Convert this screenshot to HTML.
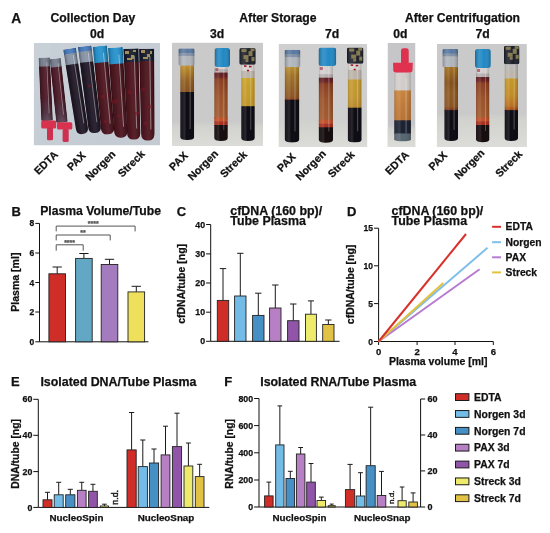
<!DOCTYPE html><html><head><meta charset="utf-8"><style>html,body{margin:0;padding:0;background:#fff;overflow:hidden}svg{display:block}text{font-family:"Liberation Sans",sans-serif}</style></head><body>
<svg width="550" height="533" viewBox="0 0 550 533">
<rect width="550" height="533" fill="#fff"/>
<defs>
<linearGradient id="cyl" x1="0" x2="1" y1="0" y2="0">
<stop offset="0" stop-color="#000" stop-opacity="0.18"/>
<stop offset="0.15" stop-color="#fff" stop-opacity="0.06"/>
<stop offset="0.3" stop-color="#fff" stop-opacity="0.12"/>
<stop offset="0.45" stop-color="#fff" stop-opacity="0.0"/>
<stop offset="0.85" stop-color="#000" stop-opacity="0.06"/>
<stop offset="1" stop-color="#000" stop-opacity="0.2"/>
</linearGradient>
<linearGradient id="cyl2" x1="0" x2="1" y1="0" y2="0">
<stop offset="0" stop-color="#000" stop-opacity="0.25"/>
<stop offset="0.3" stop-color="#fff" stop-opacity="0.12"/>
<stop offset="0.6" stop-color="#fff" stop-opacity="0"/>
<stop offset="1" stop-color="#000" stop-opacity="0.25"/>
</linearGradient>
<linearGradient id="gPax" x1="0" x2="0" y1="0" y2="1"><stop offset="0" stop-color="#c09030"/><stop offset="0.2" stop-color="#b08028"/><stop offset="0.55" stop-color="#946224"/><stop offset="1" stop-color="#84501e"/></linearGradient>
<linearGradient id="gPax7" x1="0" x2="0" y1="0" y2="1"><stop offset="0" stop-color="#a47224"/><stop offset="0.35" stop-color="#84501c"/><stop offset="0.6" stop-color="#8e5a24"/><stop offset="0.9" stop-color="#8a5424"/><stop offset="1" stop-color="#7a2e18"/></linearGradient>
<linearGradient id="gNor" x1="0" x2="0" y1="0" y2="1"><stop offset="0" stop-color="#5e1e26"/><stop offset="0.09" stop-color="#6a2424"/><stop offset="0.15" stop-color="#8a3e22"/><stop offset="0.5" stop-color="#9a522a"/><stop offset="1" stop-color="#a25c30"/></linearGradient>
<linearGradient id="gStr" x1="0" x2="0" y1="0" y2="1"><stop offset="0" stop-color="#cca42c"/><stop offset="0.5" stop-color="#c69c2a"/><stop offset="1" stop-color="#c09428"/></linearGradient>
<linearGradient id="gStr7" x1="0" x2="0" y1="0" y2="1"><stop offset="0" stop-color="#c49a30"/><stop offset="0.6" stop-color="#c29630"/><stop offset="1" stop-color="#b8882c"/></linearGradient>
<linearGradient id="gStr7b" x1="0" x2="0" y1="0" y2="1"><stop offset="0" stop-color="#c49828"/><stop offset="0.5" stop-color="#c28c28"/><stop offset="0.85" stop-color="#b87020"/><stop offset="1" stop-color="#a04018"/></linearGradient>
<linearGradient id="gEdta" x1="0" x2="0" y1="0" y2="1"><stop offset="0" stop-color="#c8843e"/><stop offset="0.4" stop-color="#c27c3a"/><stop offset="1" stop-color="#b87234"/></linearGradient>
<linearGradient id="bgv" x1="0" x2="1" y1="0" y2="0"><stop offset="0" stop-color="#c8c8c8"/><stop offset="0.5" stop-color="#c4c4c4"/><stop offset="1" stop-color="#c6c6c6"/></linearGradient>
<linearGradient id="floor" x1="0" x2="0" y1="0" y2="1"><stop offset="0" stop-color="#d4d4d0" stop-opacity="0"/><stop offset="0.2" stop-color="#d2d2ce"/><stop offset="1" stop-color="#dcdcd8"/></linearGradient>
<linearGradient id="gPax7a" x1="0" x2="0" y1="0" y2="1"><stop offset="0" stop-color="#b88e30"/><stop offset="0.25" stop-color="#a27428"/><stop offset="0.6" stop-color="#946226"/><stop offset="0.9" stop-color="#8e5424"/><stop offset="1" stop-color="#8a3a1c"/></linearGradient>
<linearGradient id="gEdtaLow" x1="0" x2="0" y1="0" y2="1"><stop offset="0" stop-color="#4e1c2a"/><stop offset="0.5" stop-color="#503040"/><stop offset="1" stop-color="#6a5a6a"/></linearGradient>
<linearGradient id="cyl1" x1="0" x2="1" y1="0" y2="0">
<stop offset="0" stop-color="#000" stop-opacity="0.35"/>
<stop offset="0.2" stop-color="#000" stop-opacity="0.05"/>
<stop offset="0.5" stop-color="#fff" stop-opacity="0.05"/>
<stop offset="0.85" stop-color="#000" stop-opacity="0.1"/>
<stop offset="1" stop-color="#000" stop-opacity="0.4"/>
</linearGradient>
<linearGradient id="bg2" x1="0" x2="0" y1="0" y2="1">
<stop offset="0" stop-color="#dcdcde"/><stop offset="0.72" stop-color="#e0e0e1"/><stop offset="0.8" stop-color="#ebeae8"/><stop offset="1" stop-color="#f0efed"/>
</linearGradient>
<linearGradient id="bg1" x1="0" x2="1" y1="0" y2="1"><stop offset="0" stop-color="#cad0d8"/><stop offset="1" stop-color="#c4cad2"/></linearGradient>
<filter id="blur1" x="-5%" y="-5%" width="110%" height="110%"><feGaussianBlur stdDeviation="0.6"/></filter>
</defs>
<text x="11.3" y="22.9" font-size="13.8" text-anchor="start" fill="#111" font-weight="bold" stroke="#111" stroke-width="0.25" >A</text>
<text x="92.9" y="22.3" font-size="12.2" text-anchor="middle" fill="#111" font-weight="bold" stroke="#111" stroke-width="0.25" >Collection Day</text>
<text x="97.1" y="37.6" font-size="12.2" text-anchor="middle" fill="#111" font-weight="bold" stroke="#111" stroke-width="0.25" >0d</text>
<text x="277.9" y="21.9" font-size="12.2" text-anchor="middle" fill="#111" font-weight="bold" stroke="#111" stroke-width="0.25" >After Storage</text>
<text x="217.2" y="37.6" font-size="12.2" text-anchor="middle" fill="#111" font-weight="bold" stroke="#111" stroke-width="0.25" >3d</text>
<text x="332" y="37.6" font-size="12.2" text-anchor="middle" fill="#111" font-weight="bold" stroke="#111" stroke-width="0.25" >7d</text>
<text x="462.5" y="21.9" font-size="12.2" text-anchor="middle" fill="#111" font-weight="bold" stroke="#111" stroke-width="0.25" >After Centrifugation</text>
<text x="400.4" y="37.6" font-size="12.2" text-anchor="middle" fill="#111" font-weight="bold" stroke="#111" stroke-width="0.25" >0d</text>
<text x="482.5" y="37.6" font-size="12.2" text-anchor="middle" fill="#111" font-weight="bold" stroke="#111" stroke-width="0.25" >7d</text>
<clipPath id="cp1"><rect x="33.7" y="43" width="126.39999999999999" height="102.5"/></clipPath>
<g clip-path="url(#cp1)" filter="url(#blur1)">
<rect x="33.7" y="43" width="126.39999999999999" height="102.5" fill="url(#bg1)" stroke="none" stroke-width="0" />
<rect x="39" y="43" width="10" height="16" fill="#c8d0d8" stroke="none" stroke-width="0" />
<rect x="50" y="43" width="10" height="16" fill="#c6ced6" stroke="none" stroke-width="0" />
<g transform="translate(44.20,57.50) rotate(-2.61)">
<clipPath id="tb1"><path d="M-5.6,0 L5.6,0 L5.8,62.56618597965431 Q5.8,63.56618597965431 0,63.56618597965431 Q-5.8,63.56618597965431 -5.8,62.56618597965431 Z"/></clipPath>
<g clip-path="url(#tb1)">
<rect x="-6.6" y="0" width="13.2" height="9.70" fill="#7a8090"/>
<rect x="-6.6" y="9" width="13.2" height="31.70" fill="#4e1c2a"/>
<rect x="-6.6" y="40" width="13.2" height="30.70" fill="url(#gEdtaLow)"/>
<rect x="-5.6" y="0" width="11.2" height="63.56618597965431" fill="url(#cyl1)"/>
<rect x="1.96" y="5.09" width="0.80" height="50.85" fill="#fff" opacity="0.42"/>
</g>
</g>
<g transform="translate(55.20,58.50) rotate(-6.06)">
<clipPath id="tb2"><path d="M-5.5,0 L5.5,0 L5.75,63.36023617110179 Q5.75,64.36023617110179 0,64.36023617110179 Q-5.75,64.36023617110179 -5.75,63.36023617110179 Z"/></clipPath>
<g clip-path="url(#tb2)">
<rect x="-6.5" y="0" width="13.0" height="9.20" fill="#7a8090"/>
<rect x="-6.5" y="8.5" width="13.0" height="32.20" fill="#4e1c2a"/>
<rect x="-6.5" y="40" width="13.0" height="30.70" fill="url(#gEdtaLow)"/>
<rect x="-5.5" y="0" width="11.0" height="64.36023617110179" fill="url(#cyl1)"/>
<rect x="1.92" y="5.15" width="0.80" height="51.49" fill="#fff" opacity="0.42"/>
</g>
</g>
<g transform="translate(69.50,48.60) rotate(-8.85)">
<clipPath id="tb3"><path d="M-6.4,0 L6.4,0 L6.0,80.66945099906629 Q6.0,86.42945099906629 0,86.42945099906629 Q-6.0,86.42945099906629 -6.0,80.66945099906629 Z"/></clipPath>
<g clip-path="url(#tb3)">
<rect x="-7.4" y="0" width="14.8" height="5.70" fill="#4a7cbc"/>
<rect x="-7.4" y="5" width="14.8" height="11.70" fill="#8a96a8"/>
<rect x="-7.4" y="16" width="14.8" height="79.70" fill="#221a28"/>
<rect x="-6.4" y="0" width="12.8" height="86.42945099906629" fill="url(#cyl1)"/>
<rect x="2.24" y="6.91" width="0.90" height="69.14" fill="#fff" opacity="0.42"/>
</g>
</g>
<g transform="translate(84.60,46.20) rotate(-7.03)">
<clipPath id="tb4"><path d="M-6.8,0 L6.8,0 L6.3,81.3370180145653 Q6.3,87.4570180145653 0,87.4570180145653 Q-6.3,87.4570180145653 -6.3,81.3370180145653 Z"/></clipPath>
<g clip-path="url(#tb4)">
<rect x="-7.8" y="0" width="15.6" height="5.70" fill="#4a7cbc"/>
<rect x="-7.8" y="5" width="15.6" height="11.70" fill="#8a96a8"/>
<rect x="-7.8" y="16" width="15.6" height="79.70" fill="#221a28"/>
<rect x="-6.8" y="0" width="13.6" height="87.4570180145653" fill="url(#cyl1)"/>
<rect x="2.38" y="7.00" width="0.95" height="69.97" fill="#fff" opacity="0.42"/>
</g>
</g>
<g transform="translate(99.80,46.00) rotate(-5.42)">
<clipPath id="tb5"><path d="M-7.1,0 L7.1,0 L6.6,82.50775025274824 Q6.6,88.89775025274824 0,88.89775025274824 Q-6.6,88.89775025274824 -6.6,82.50775025274824 Z"/></clipPath>
<g clip-path="url(#tb5)">
<rect x="-8.1" y="0" width="16.2" height="17.20" fill="#2894ce"/>
<rect x="-8.1" y="16.5" width="16.2" height="79.20" fill="#4c1620"/>
<rect x="-7.1" y="0" width="14.2" height="88.89775025274824" fill="url(#cyl1)"/>
<rect x="2.48" y="7.11" width="0.99" height="71.12" fill="#fff" opacity="0.42"/>
</g>
</g>
<g transform="translate(115.30,47.40) rotate(-3.74)">
<clipPath id="tb6"><path d="M-7.3,0 L7.3,0 L6.6,83.92254112908972 Q6.6,90.49254112908973 0,90.49254112908973 Q-6.6,90.49254112908973 -6.6,83.92254112908972 Z"/></clipPath>
<g clip-path="url(#tb6)">
<rect x="-8.3" y="0" width="16.6" height="17.20" fill="#2894ce"/>
<rect x="-8.3" y="16.5" width="16.6" height="79.20" fill="#4c1620"/>
<rect x="-7.3" y="0" width="14.6" height="90.49254112908973" fill="url(#cyl1)"/>
<rect x="2.55" y="7.24" width="1.02" height="72.39" fill="#fff" opacity="0.42"/>
</g>
</g>
<g transform="translate(130.90,48.60) rotate(-1.89)">
<clipPath id="tb7"><path d="M-7.5,0 L7.5,0 L6.6,84.2994371207203 Q6.6,91.0494371207203 0,91.0494371207203 Q-6.6,91.0494371207203 -6.6,84.2994371207203 Z"/></clipPath>
<g clip-path="url(#tb7)">
<rect x="-8.5" y="0" width="17.0" height="14.20" fill="#1a2030"/>
<rect x="-8.5" y="13.5" width="17.0" height="82.20" fill="#4e1620"/>
<rect x="-7.5" y="0" width="15.0" height="91.0494371207203" fill="url(#cyl1)"/>
<rect x="2.62" y="7.28" width="1.05" height="72.84" fill="#fff" opacity="0.42"/>
</g>
</g>
<g transform="translate(146.60,48.60) rotate(-0.81)">
<clipPath id="tb8"><path d="M-7.5,0 L7.5,0 L6.6,85.25918432417494 Q6.6,92.00918432417494 0,92.00918432417494 Q-6.6,92.00918432417494 -6.6,85.25918432417494 Z"/></clipPath>
<g clip-path="url(#tb8)">
<rect x="-8.5" y="0" width="17.0" height="13.20" fill="#1a2030"/>
<rect x="-8.5" y="12.5" width="17.0" height="83.20" fill="#4e1620"/>
<rect x="-7.5" y="0" width="15.0" height="92.00918432417494" fill="url(#cyl1)"/>
<rect x="2.62" y="7.36" width="1.05" height="73.61" fill="#fff" opacity="0.42"/>
</g>
</g>
<rect x="125" y="51" width="4" height="3" fill="#b09a62" stroke="none" stroke-width="0" opacity="0.9"/>
<rect x="131" y="55" width="3" height="4" fill="#b09a62" stroke="none" stroke-width="0" opacity="0.9"/>
<rect x="127" y="58" width="5" height="2" fill="#b09a62" stroke="none" stroke-width="0" opacity="0.9"/>
<rect x="133" y="50" width="3" height="2" fill="#b09a62" stroke="none" stroke-width="0" opacity="0.9"/>
<rect x="141" y="50" width="4" height="3" fill="#b09a62" stroke="none" stroke-width="0" opacity="0.9"/>
<rect x="147" y="54" width="3" height="3" fill="#b09a62" stroke="none" stroke-width="0" opacity="0.9"/>
<rect x="143" y="57" width="5" height="2" fill="#b09a62" stroke="none" stroke-width="0" opacity="0.9"/>
<rect x="150" y="51" width="2" height="3" fill="#b09a62" stroke="none" stroke-width="0" opacity="0.9"/>
<ellipse cx="103.0" cy="96.5" rx="2.5" ry="2.0" fill="#7a1a26" opacity="0.55"/>
<ellipse cx="114.5" cy="101.5" rx="3.0" ry="2.0" fill="#7a1a26" opacity="0.55"/>
<ellipse cx="120.0" cy="116.0" rx="2.5" ry="1.5" fill="#7a1a26" opacity="0.55"/>
<ellipse cx="129.5" cy="92.0" rx="2.0" ry="2.5" fill="#7a1a26" opacity="0.55"/>
<ellipse cx="137.0" cy="113.5" rx="2.5" ry="2.0" fill="#7a1a26" opacity="0.55"/>
<ellipse cx="143.5" cy="89.5" rx="2.0" ry="2.0" fill="#7a1a26" opacity="0.55"/>
<ellipse cx="150.0" cy="106.5" rx="2.5" ry="2.0" fill="#7a1a26" opacity="0.55"/>
<ellipse cx="145.5" cy="123.5" rx="2.0" ry="2.0" fill="#7a1a26" opacity="0.55"/>
<ellipse cx="105.5" cy="121.5" rx="2.0" ry="2.0" fill="#7a1a26" opacity="0.55"/>
<ellipse cx="89.5" cy="86.0" rx="2.0" ry="1.5" fill="#7a1a26" opacity="0.55"/>
<rect x="41.2" y="120.4" width="15" height="8.2" rx="1.5" fill="#d83050"/>
<rect x="47" y="127.5" width="6" height="12.7" rx="1.5" fill="#cc3050"/>
<rect x="57" y="122.2" width="15.3" height="7.4" rx="1.5" fill="#d83050"/>
<rect x="62.6" y="129" width="6.1" height="13" rx="1.5" fill="#cc3050"/>
</g>
<clipPath id="cp2"><rect x="172" y="42.6" width="91" height="103.4"/></clipPath>
<g clip-path="url(#cp2)" filter="url(#blur1)">
<rect x="172" y="42.6" width="91" height="103.4" fill="#cacaca" stroke="none" stroke-width="0" />
<rect x="172" y="122" width="91" height="24" fill="url(#floor)" stroke="none" stroke-width="0" />
<g transform="translate(187.20,48.40) rotate(-0.00)">
<clipPath id="tb9"><path d="M-7.0,0 L7.0,0 L7.0,88.6 Q7.0,91.6 0,91.6 Q-7.0,91.6 -7.0,88.6 Z"/></clipPath>
<g clip-path="url(#tb9)">
<rect x="-8.0" y="0" width="16" height="17.80" fill="#a6aeb8"/>
<rect x="-8.0" y="17.1" width="16" height="27.20" fill="url(#gPax)"/>
<rect x="-8.0" y="43.6" width="16" height="48.70" fill="#0e0c14"/>
<rect x="-7.0" y="0" width="14" height="91.6" fill="url(#cyl)"/>
<rect x="2.45" y="7.33" width="0.98" height="73.28" fill="#fff" opacity="0.28"/>
</g>
</g>
<clipPath id="cap1009"><rect x="178.4" y="48.4" width="16.2" height="17.1" rx="1.5"/></clipPath>
<g clip-path="url(#cap1009)">
<rect x="178.4" y="48.4" width="16.2" height="4.8" fill="#5878a0" stroke="none" stroke-width="0" />
<rect x="178.4" y="53.199999999999996" width="16.2" height="2.7" fill="#8090a8" stroke="none" stroke-width="0" />
<rect x="178.4" y="55.9" width="16.2" height="9.600000000000001" fill="#b0b5bc" stroke="none" stroke-width="0" />
<rect x="178.4" y="48.4" width="16.2" height="17.1" fill="url(#cyl2)" stroke="none" stroke-width="0" />
</g>
<g transform="translate(221.00,48.00) rotate(-0.00)">
<clipPath id="tb11"><path d="M-6.65,0 L6.65,0 L6.65,90.0 Q6.65,93.0 0,93.0 Q-6.65,93.0 -6.65,90.0 Z"/></clipPath>
<g clip-path="url(#tb11)">
<rect x="-7.65" y="0" width="15.3" height="19.70" fill="#d0cccc"/>
<rect x="-7.65" y="19" width="15.3" height="2.80" fill="#d4d0d0"/>
<rect x="-7.65" y="21.099999999999994" width="15.3" height="4.20" fill="#b8b0b0"/>
<rect x="-7.65" y="24.599999999999994" width="15.3" height="46.60" fill="url(#gNor)"/>
<rect x="-7.65" y="69.5" width="15.3" height="4.70" fill="#c0522c"/>
<rect x="-7.65" y="73.5" width="15.3" height="4.20" fill="#a83020"/>
<rect x="-7.65" y="77.0" width="15.3" height="16.70" fill="#140a0e"/>
<rect x="-6.65" y="0" width="13.3" height="93.0" fill="url(#cyl)"/>
<rect x="2.33" y="7.44" width="0.93" height="74.40" fill="#fff" opacity="0.28"/>
</g>
</g>
<rect x="215.35" y="68" width="3" height="3" fill="#a02838" stroke="none" stroke-width="0" opacity="0.6"/>
<clipPath id="cap1011"><rect x="214.60000000000002" y="48" width="15.4" height="19" rx="3"/></clipPath>
<g clip-path="url(#cap1011)">
<rect x="214.60000000000002" y="48" width="15.4" height="19" fill="#2088c4" stroke="none" stroke-width="0" />
<rect x="214.60000000000002" y="48" width="15.4" height="19" fill="url(#cyl2)" stroke="none" stroke-width="0" />
</g>
<g transform="translate(248.00,48.10) rotate(-0.00)">
<clipPath id="tb13"><path d="M-6.65,0 L6.65,0 L6.65,89.9 Q6.65,92.9 0,92.9 Q-6.65,92.9 -6.65,89.9 Z"/></clipPath>
<g clip-path="url(#tb13)">
<rect x="-7.65" y="0" width="15.3" height="23.40" fill="#d6d2d0"/>
<rect x="-7.65" y="22.699999999999996" width="15.3" height="7.90" fill="#bdb5ab"/>
<rect x="-7.65" y="29.9" width="15.3" height="28.90" fill="url(#gStr)"/>
<rect x="-7.65" y="58.1" width="15.3" height="35.50" fill="#0e0c14"/>
<rect x="-6.65" y="0" width="13.3" height="92.9" fill="url(#cyl)"/>
<rect x="2.33" y="7.43" width="0.93" height="74.32" fill="#fff" opacity="0.28"/>
</g>
</g>
<clipPath id="cap1013"><rect x="239.3" y="48.1" width="16.4" height="16.699999999999996" rx="2"/></clipPath>
<g clip-path="url(#cap1013)">
<rect x="239.3" y="48.1" width="16.4" height="16.699999999999996" fill="#1a1e28" stroke="none" stroke-width="0" />
<rect x="239.3" y="48.1" width="16.4" height="16.699999999999996" fill="url(#cyl2)" stroke="none" stroke-width="0" />
</g>
<rect x="241.5" y="49.1" width="5" height="3" fill="#968a5a" stroke="none" stroke-width="0" opacity="0.85"/>
<rect x="248.5" y="51.1" width="4" height="5" fill="#968a5a" stroke="none" stroke-width="0" opacity="0.85"/>
<rect x="243.5" y="55.1" width="5" height="4" fill="#968a5a" stroke="none" stroke-width="0" opacity="0.85"/>
<rect x="250.5" y="48.6" width="4" height="2.5" fill="#968a5a" stroke="none" stroke-width="0" opacity="0.85"/>
<rect x="251.5" y="57.1" width="3" height="4" fill="#968a5a" stroke="none" stroke-width="0" opacity="0.85"/>
<rect x="245.5" y="59.1" width="3" height="3" fill="#968a5a" stroke="none" stroke-width="0" opacity="0.85"/>
<rect x="244" y="65.3" width="2.5" height="1.6" fill="#a01828" stroke="none" stroke-width="0" />
<rect x="249" y="65.8" width="2.5" height="1.6" fill="#a01828" stroke="none" stroke-width="0" />
<rect x="247" y="69.8" width="2" height="1.5" fill="#a01828" stroke="none" stroke-width="0" />
</g>
<clipPath id="cp3"><rect x="278.6" y="44" width="88.69999999999999" height="103"/></clipPath>
<g clip-path="url(#cp3)" filter="url(#blur1)">
<rect x="278.6" y="44" width="88.69999999999999" height="103" fill="#cfcfcf" stroke="none" stroke-width="0" />
<rect x="278.6" y="120" width="88.69999999999999" height="27" fill="url(#floor)" stroke="none" stroke-width="0" />
<g transform="translate(292.00,49.80) rotate(-0.00)">
<clipPath id="tb15"><path d="M-7.15,0 L7.15,0 L7.15,89.7 Q7.15,92.7 0,92.7 Q-7.15,92.7 -7.15,89.7 Z"/></clipPath>
<g clip-path="url(#tb15)">
<rect x="-8.15" y="0" width="16.3" height="17.90" fill="#a6aeb8"/>
<rect x="-8.15" y="17.200000000000003" width="16.3" height="33.40" fill="url(#gPax7a)"/>
<rect x="-8.15" y="49.900000000000006" width="16.3" height="43.50" fill="#0e0c14"/>
<rect x="-7.15" y="0" width="14.3" height="92.7" fill="url(#cyl)"/>
<rect x="2.50" y="7.42" width="1.00" height="74.16" fill="#fff" opacity="0.28"/>
</g>
</g>
<clipPath id="cap1015"><rect x="284.6" y="49.8" width="15.8" height="17.200000000000003" rx="1.5"/></clipPath>
<g clip-path="url(#cap1015)">
<rect x="284.6" y="49.8" width="15.8" height="4.8" fill="#5878a0" stroke="none" stroke-width="0" />
<rect x="284.6" y="54.599999999999994" width="15.8" height="2.7" fill="#8090a8" stroke="none" stroke-width="0" />
<rect x="284.6" y="57.3" width="15.8" height="9.700000000000003" fill="#b0b5bc" stroke="none" stroke-width="0" />
<rect x="284.6" y="49.8" width="15.8" height="17.200000000000003" fill="url(#cyl2)" stroke="none" stroke-width="0" />
</g>
<g transform="translate(325.90,47.60) rotate(-0.00)">
<clipPath id="tb17"><path d="M-7.05,0 L7.05,0 L7.05,92.1 Q7.05,95.1 0,95.1 Q-7.05,95.1 -7.05,92.1 Z"/></clipPath>
<g clip-path="url(#tb17)">
<rect x="-8.05" y="0" width="16.1" height="19.10" fill="#d0cccc"/>
<rect x="-8.05" y="18.4" width="16.1" height="8.90" fill="#d4d0d0"/>
<rect x="-8.05" y="26.6" width="16.1" height="4.20" fill="#b8b0b0"/>
<rect x="-8.05" y="30.1" width="16.1" height="43.80" fill="url(#gNor)"/>
<rect x="-8.05" y="72.19999999999999" width="16.1" height="4.70" fill="#c0522c"/>
<rect x="-8.05" y="76.19999999999999" width="16.1" height="4.20" fill="#a83020"/>
<rect x="-8.05" y="79.69999999999999" width="16.1" height="16.10" fill="#140a0e"/>
<rect x="-7.05" y="0" width="14.1" height="95.1" fill="url(#cyl)"/>
<rect x="2.47" y="7.61" width="0.99" height="76.08" fill="#fff" opacity="0.28"/>
</g>
</g>
<rect x="319.84999999999997" y="67" width="3" height="3" fill="#a02838" stroke="none" stroke-width="0" opacity="0.6"/>
<clipPath id="cap1017"><rect x="318.54999999999995" y="47.6" width="17.7" height="18.4" rx="3"/></clipPath>
<g clip-path="url(#cap1017)">
<rect x="318.54999999999995" y="47.6" width="17.7" height="18.4" fill="#2088c4" stroke="none" stroke-width="0" />
<rect x="318.54999999999995" y="47.6" width="17.7" height="18.4" fill="url(#cyl2)" stroke="none" stroke-width="0" />
</g>
<g transform="translate(354.70,47.60) rotate(-0.00)">
<clipPath id="tb19"><path d="M-7.0,0 L7.0,0 L7.0,91.9 Q7.0,94.9 0,94.9 Q-7.0,94.9 -7.0,91.9 Z"/></clipPath>
<g clip-path="url(#tb19)">
<rect x="-8.0" y="0" width="16" height="22.90" fill="#d6d2d0"/>
<rect x="-8.0" y="22.199999999999996" width="16" height="10.40" fill="#bdb5ab"/>
<rect x="-8.0" y="31.9" width="16" height="28.90" fill="url(#gStr7)"/>
<rect x="-8.0" y="60.1" width="16" height="35.50" fill="#0e0c14"/>
<rect x="-7.0" y="0" width="14" height="94.9" fill="url(#cyl)"/>
<rect x="2.45" y="7.59" width="0.98" height="75.92" fill="#fff" opacity="0.28"/>
</g>
</g>
<clipPath id="cap1019"><rect x="346.95" y="47.6" width="16.5" height="16.199999999999996" rx="2"/></clipPath>
<g clip-path="url(#cap1019)">
<rect x="346.95" y="47.6" width="16.5" height="16.199999999999996" fill="#1a1e28" stroke="none" stroke-width="0" />
<rect x="346.95" y="47.6" width="16.5" height="16.199999999999996" fill="url(#cyl2)" stroke="none" stroke-width="0" />
</g>
<rect x="349.2" y="48.6" width="5" height="3" fill="#968a5a" stroke="none" stroke-width="0" opacity="0.85"/>
<rect x="356.2" y="50.6" width="4" height="5" fill="#968a5a" stroke="none" stroke-width="0" opacity="0.85"/>
<rect x="351.2" y="54.6" width="5" height="4" fill="#968a5a" stroke="none" stroke-width="0" opacity="0.85"/>
<rect x="358.2" y="48.1" width="4" height="2.5" fill="#968a5a" stroke="none" stroke-width="0" opacity="0.85"/>
<rect x="359.2" y="56.6" width="3" height="4" fill="#968a5a" stroke="none" stroke-width="0" opacity="0.85"/>
<rect x="353.2" y="58.6" width="3" height="3" fill="#968a5a" stroke="none" stroke-width="0" opacity="0.85"/>
<rect x="350.7" y="64.3" width="2.5" height="1.6" fill="#a01828" stroke="none" stroke-width="0" />
<rect x="355.7" y="64.8" width="2.5" height="1.6" fill="#a01828" stroke="none" stroke-width="0" />
<rect x="353.7" y="68.8" width="2" height="1.5" fill="#a01828" stroke="none" stroke-width="0" />
</g>
<clipPath id="cp4"><rect x="387.5" y="43" width="28.0" height="104"/></clipPath>
<g clip-path="url(#cp4)" filter="url(#blur1)">
<rect x="387.5" y="43" width="28.0" height="104" fill="#c6c6c8" stroke="none" stroke-width="0" />
<rect x="387.5" y="125" width="28.0" height="22" fill="url(#floor)" stroke="none" stroke-width="0" />
<g transform="translate(402.60,72.80) rotate(-0.00)">
<clipPath id="tb21"><path d="M-8.3,0 L8.3,0 L8.3,66.50000000000001 Q8.3,68.50000000000001 0,68.50000000000001 Q-8.3,68.50000000000001 -8.3,66.50000000000001 Z"/></clipPath>
<g clip-path="url(#tb21)">
<rect x="-9.3" y="0" width="18.6" height="18.30" fill="#d2cdca"/>
<rect x="-9.3" y="17.6" width="18.6" height="30.60" fill="url(#gEdta)"/>
<rect x="-9.3" y="47.5" width="18.6" height="13.80" fill="#1c2232"/>
<rect x="-9.3" y="60.6" width="18.6" height="10.10" fill="#586670"/>
<rect x="-8.3" y="0" width="16.6" height="68.50000000000001" fill="url(#cyl)"/>
<rect x="2.91" y="5.48" width="1.16" height="54.80" fill="#fff" opacity="0.28"/>
</g>
</g>
<path d="M401,65 L401,50.5 Q401,48.2 403.5,48.2 L406.2,48.2 Q408.7,48.2 408.7,50.5 L408.7,65 Z" fill="#dc3050"/>
<path d="M393.1,62.8 L412.8,62.8 L412.5,70.5 Q412.3,72.6 410.2,72.6 L395.6,72.6 Q393.5,72.6 393.3,70.5 Z" fill="#e03050"/>
</g>
<clipPath id="cp5"><rect x="436.8" y="44" width="90.09999999999997" height="103"/></clipPath>
<g clip-path="url(#cp5)" filter="url(#blur1)">
<rect x="436.8" y="44" width="90.09999999999997" height="103" fill="#cacaca" stroke="none" stroke-width="0" />
<rect x="436.8" y="114" width="90.09999999999997" height="33" fill="url(#floor)" stroke="none" stroke-width="0" />
<g transform="translate(451.20,49.00) rotate(-0.00)">
<clipPath id="tb22"><path d="M-6.85,0 L6.85,0 L6.85,89.0 Q6.85,92.0 0,92.0 Q-6.85,92.0 -6.85,89.0 Z"/></clipPath>
<g clip-path="url(#tb22)">
<rect x="-7.85" y="0" width="15.7" height="18.70" fill="#a6aeb8"/>
<rect x="-7.85" y="18" width="15.7" height="43.80" fill="url(#gPax7)"/>
<rect x="-7.85" y="61.099999999999994" width="15.7" height="31.60" fill="#0e0c14"/>
<rect x="-6.85" y="0" width="13.7" height="92.0" fill="url(#cyl)"/>
<rect x="2.40" y="7.36" width="0.96" height="73.60" fill="#fff" opacity="0.28"/>
</g>
</g>
<clipPath id="cap1022"><rect x="442.4" y="49" width="15.6" height="18" rx="1.5"/></clipPath>
<g clip-path="url(#cap1022)">
<rect x="442.4" y="49" width="15.6" height="4.8" fill="#5878a0" stroke="none" stroke-width="0" />
<rect x="442.4" y="53.8" width="15.6" height="2.7" fill="#8090a8" stroke="none" stroke-width="0" />
<rect x="442.4" y="56.5" width="15.6" height="10.5" fill="#b0b5bc" stroke="none" stroke-width="0" />
<rect x="442.4" y="49" width="15.6" height="18" fill="url(#cyl2)" stroke="none" stroke-width="0" />
</g>
<g transform="translate(482.70,49.00) rotate(-0.00)">
<clipPath id="tb24"><path d="M-6.65,0 L6.65,0 L6.65,90.19999999999999 Q6.65,93.19999999999999 0,93.19999999999999 Q-6.65,93.19999999999999 -6.65,90.19999999999999 Z"/></clipPath>
<g clip-path="url(#tb24)">
<rect x="-7.65" y="0" width="15.3" height="19.70" fill="#d0cccc"/>
<rect x="-7.65" y="19" width="15.3" height="6.20" fill="#d4d0d0"/>
<rect x="-7.65" y="24.5" width="15.3" height="4.20" fill="#b8b0b0"/>
<rect x="-7.65" y="28" width="15.3" height="42.20" fill="url(#gNor)"/>
<rect x="-7.65" y="68.5" width="15.3" height="4.70" fill="#c0522c"/>
<rect x="-7.65" y="72.5" width="15.3" height="4.20" fill="#a83020"/>
<rect x="-7.65" y="76.0" width="15.3" height="17.90" fill="#140a0e"/>
<rect x="-6.65" y="0" width="13.3" height="93.19999999999999" fill="url(#cyl)"/>
<rect x="2.33" y="7.46" width="0.93" height="74.56" fill="#fff" opacity="0.28"/>
</g>
</g>
<rect x="477.05" y="69" width="3" height="3" fill="#a02838" stroke="none" stroke-width="0" opacity="0.6"/>
<clipPath id="cap1024"><rect x="475.0" y="49" width="15.8" height="19" rx="3"/></clipPath>
<g clip-path="url(#cap1024)">
<rect x="475.0" y="49" width="15.8" height="19" fill="#2088c4" stroke="none" stroke-width="0" />
<rect x="475.0" y="49" width="15.8" height="19" fill="url(#cyl2)" stroke="none" stroke-width="0" />
</g>
<g transform="translate(511.30,45.80) rotate(-0.00)">
<clipPath id="tb26"><path d="M-6.7,0 L6.7,0 L6.7,92.2 Q6.7,95.2 0,95.2 Q-6.7,95.2 -6.7,92.2 Z"/></clipPath>
<g clip-path="url(#tb26)">
<rect x="-7.7" y="0" width="15.4" height="25.20" fill="#bab8b6"/>
<rect x="-7.7" y="24.5" width="15.4" height="8.90" fill="#bdb5ab"/>
<rect x="-7.7" y="32.7" width="15.4" height="32.30" fill="url(#gStr7b)"/>
<rect x="-7.7" y="64.3" width="15.4" height="31.60" fill="#0e0c14"/>
<rect x="-6.7" y="0" width="13.4" height="95.2" fill="url(#cyl)"/>
<rect x="2.34" y="7.62" width="0.94" height="76.16" fill="#fff" opacity="0.28"/>
</g>
</g>
<clipPath id="cap1026"><rect x="503.95" y="45.8" width="15.5" height="18.5" rx="2"/></clipPath>
<g clip-path="url(#cap1026)">
<rect x="503.95" y="45.8" width="15.5" height="18.5" fill="#1a1e28" stroke="none" stroke-width="0" />
<rect x="503.95" y="45.8" width="15.5" height="18.5" fill="url(#cyl2)" stroke="none" stroke-width="0" />
</g>
<rect x="505.7" y="46.8" width="5" height="3" fill="#968a5a" stroke="none" stroke-width="0" opacity="0.85"/>
<rect x="512.7" y="48.8" width="4" height="5" fill="#968a5a" stroke="none" stroke-width="0" opacity="0.85"/>
<rect x="507.7" y="52.8" width="5" height="4" fill="#968a5a" stroke="none" stroke-width="0" opacity="0.85"/>
<rect x="514.7" y="46.3" width="4" height="2.5" fill="#968a5a" stroke="none" stroke-width="0" opacity="0.85"/>
<rect x="515.7" y="54.8" width="3" height="4" fill="#968a5a" stroke="none" stroke-width="0" opacity="0.85"/>
<rect x="509.7" y="56.8" width="3" height="3" fill="#968a5a" stroke="none" stroke-width="0" opacity="0.85"/>
</g>
<text x="58.6" y="155.3" font-size="10.7" text-anchor="end" fill="#111" font-weight="bold" stroke="#111" stroke-width="0.25" transform="rotate(-45 58.6 155.3)">EDTA</text>
<text x="86.4" y="156.2" font-size="10.7" text-anchor="end" fill="#111" font-weight="bold" stroke="#111" stroke-width="0.25" transform="rotate(-45 86.4 156.2)">PAX</text>
<text x="116.1" y="154.8" font-size="10.7" text-anchor="end" fill="#111" font-weight="bold" stroke="#111" stroke-width="0.25" transform="rotate(-45 116.1 154.8)">Norgen</text>
<text x="145.4" y="154.6" font-size="10.7" text-anchor="end" fill="#111" font-weight="bold" stroke="#111" stroke-width="0.25" transform="rotate(-45 145.4 154.6)">Streck</text>
<text x="188.5" y="156.2" font-size="10.7" text-anchor="end" fill="#111" font-weight="bold" stroke="#111" stroke-width="0.25" transform="rotate(-45 188.5 156.2)">PAX</text>
<text x="218.8" y="154.5" font-size="10.7" text-anchor="end" fill="#111" font-weight="bold" stroke="#111" stroke-width="0.25" transform="rotate(-45 218.8 154.5)">Norgen</text>
<text x="247.6" y="155.2" font-size="10.7" text-anchor="end" fill="#111" font-weight="bold" stroke="#111" stroke-width="0.25" transform="rotate(-45 247.6 155.2)">Streck</text>
<text x="296.4" y="157.5" font-size="10.7" text-anchor="end" fill="#111" font-weight="bold" stroke="#111" stroke-width="0.25" transform="rotate(-45 296.4 157.5)">PAX</text>
<text x="326.5" y="154.5" font-size="10.7" text-anchor="end" fill="#111" font-weight="bold" stroke="#111" stroke-width="0.25" transform="rotate(-45 326.5 154.5)">Norgen</text>
<text x="355.3" y="155.2" font-size="10.7" text-anchor="end" fill="#111" font-weight="bold" stroke="#111" stroke-width="0.25" transform="rotate(-45 355.3 155.2)">Streck</text>
<text x="409.6" y="155.5" font-size="10.7" text-anchor="end" fill="#111" font-weight="bold" stroke="#111" stroke-width="0.25" transform="rotate(-45 409.6 155.5)">EDTA</text>
<text x="447.9" y="155.9" font-size="10.7" text-anchor="end" fill="#111" font-weight="bold" stroke="#111" stroke-width="0.25" transform="rotate(-45 447.9 155.9)">PAX</text>
<text x="485.1" y="153.6" font-size="10.7" text-anchor="end" fill="#111" font-weight="bold" stroke="#111" stroke-width="0.25" transform="rotate(-45 485.1 153.6)">Norgen</text>
<text x="522.9" y="154.7" font-size="10.7" text-anchor="end" fill="#111" font-weight="bold" stroke="#111" stroke-width="0.25" transform="rotate(-45 522.9 154.7)">Streck</text>
<text x="11.4" y="216" font-size="13" text-anchor="start" fill="#111" font-weight="bold" stroke="#111" stroke-width="0.25" >B</text>
<text x="40.2" y="215.4" font-size="12.2" text-anchor="start" fill="#111" font-weight="bold" stroke="#111" stroke-width="0.25" >Plasma Volume/Tube</text>
<line x1="39.5" y1="223.4" x2="39.5" y2="341.8" stroke="#111" stroke-width="1" />
<line x1="35.3" y1="223.4" x2="39.5" y2="223.4" stroke="#111" stroke-width="1" />
<text x="34.3" y="226.46" font-size="8.5" text-anchor="end" fill="#111" font-weight="bold" stroke="#111" stroke-width="0.25" >8</text>
<line x1="35.3" y1="253" x2="39.5" y2="253" stroke="#111" stroke-width="1" />
<text x="34.3" y="256.06" font-size="8.5" text-anchor="end" fill="#111" font-weight="bold" stroke="#111" stroke-width="0.25" >6</text>
<line x1="35.3" y1="282.5" x2="39.5" y2="282.5" stroke="#111" stroke-width="1" />
<text x="34.3" y="285.56" font-size="8.5" text-anchor="end" fill="#111" font-weight="bold" stroke="#111" stroke-width="0.25" >4</text>
<line x1="35.3" y1="312" x2="39.5" y2="312" stroke="#111" stroke-width="1" />
<text x="34.3" y="315.06" font-size="8.5" text-anchor="end" fill="#111" font-weight="bold" stroke="#111" stroke-width="0.25" >2</text>
<line x1="35.3" y1="341.8" x2="39.5" y2="341.8" stroke="#111" stroke-width="1" />
<text x="34.3" y="344.86" font-size="8.5" text-anchor="end" fill="#111" font-weight="bold" stroke="#111" stroke-width="0.25" >0</text>
<line x1="39.5" y1="341.8" x2="148.4" y2="341.8" stroke="#111" stroke-width="1" />
<line x1="57.2" y1="267" x2="57.2" y2="273.8" stroke="#1a1a1a" stroke-width="1.0" />
<line x1="52.552" y1="267" x2="61.848000000000006" y2="267" stroke="#1a1a1a" stroke-width="1.0" />
<rect x="48.9" y="273.8" width="16.6" height="68.0" fill="#cf2d28" stroke="#222" stroke-width="0.9" />
<line x1="83.9" y1="253.5" x2="83.9" y2="258.4" stroke="#1a1a1a" stroke-width="1.0" />
<line x1="79.25200000000001" y1="253.5" x2="88.548" y2="253.5" stroke="#1a1a1a" stroke-width="1.0" />
<rect x="75.6" y="258.4" width="16.60000000000001" height="83.40000000000003" fill="#62a8c4" stroke="#222" stroke-width="0.9" />
<line x1="109.5" y1="259.3" x2="109.5" y2="264.5" stroke="#1a1a1a" stroke-width="1.0" />
<line x1="104.852" y1="259.3" x2="114.148" y2="259.3" stroke="#1a1a1a" stroke-width="1.0" />
<rect x="101.2" y="264.5" width="16.599999999999994" height="77.30000000000001" fill="#a47bbd" stroke="#222" stroke-width="0.9" />
<line x1="136.3" y1="286.3" x2="136.3" y2="291.9" stroke="#1a1a1a" stroke-width="1.0" />
<line x1="131.65200000000002" y1="286.3" x2="140.948" y2="286.3" stroke="#1a1a1a" stroke-width="1.0" />
<rect x="128" y="291.9" width="16.599999999999994" height="49.900000000000034" fill="#efe05c" stroke="#222" stroke-width="0.9" />
<polyline points="56.2,231.4 56.2,226.1 135.1,226.1 135.1,231.4" fill="none" stroke="#555" stroke-width="1"/>
<polyline points="56.2,240.4 56.2,235 110.2,235 110.2,240.4" fill="none" stroke="#555" stroke-width="1"/>
<polyline points="56.2,250.7 56.2,244.8 83.2,244.8 83.2,250.7" fill="none" stroke="#555" stroke-width="1"/>
<text x="93.2" y="226.4" font-size="7" text-anchor="middle" fill="#555" font-weight="bold" stroke="#555" stroke-width="0.25" >****</text>
<text x="83.0" y="235.4" font-size="7" text-anchor="middle" fill="#555" font-weight="bold" stroke="#555" stroke-width="0.25" >**</text>
<text x="69.6" y="245.2" font-size="7" text-anchor="middle" fill="#555" font-weight="bold" stroke="#555" stroke-width="0.25" >****</text>
<text x="19.0" y="282.2" font-size="10.55" text-anchor="middle" fill="#111" font-weight="bold" stroke="#111" stroke-width="0.25" transform="rotate(-90 19.0 282.2)">Plasma [ml]</text>
<text x="176.8" y="216" font-size="13" text-anchor="start" fill="#111" font-weight="bold" stroke="#111" stroke-width="0.25" >C</text>
<text x="230.3" y="214.5" font-size="12.4" text-anchor="start" fill="#111" font-weight="bold" stroke="#111" stroke-width="0.25" >cfDNA (160 bp)/</text>
<text x="230.3" y="225.3" font-size="12.4" text-anchor="start" fill="#111" font-weight="bold" stroke="#111" stroke-width="0.25" >Tube Plasma</text>
<line x1="210.7" y1="224.5" x2="210.7" y2="341.3" stroke="#111" stroke-width="1" />
<line x1="206.1" y1="224.5" x2="210.7" y2="224.5" stroke="#111" stroke-width="1" />
<text x="205.1" y="227.668" font-size="8.8" text-anchor="end" fill="#111" font-weight="bold" stroke="#111" stroke-width="0.25" >40</text>
<line x1="206.1" y1="253.9" x2="210.7" y2="253.9" stroke="#111" stroke-width="1" />
<text x="205.1" y="257.068" font-size="8.8" text-anchor="end" fill="#111" font-weight="bold" stroke="#111" stroke-width="0.25" >30</text>
<line x1="206.1" y1="283" x2="210.7" y2="283" stroke="#111" stroke-width="1" />
<text x="205.1" y="286.168" font-size="8.8" text-anchor="end" fill="#111" font-weight="bold" stroke="#111" stroke-width="0.25" >20</text>
<line x1="206.1" y1="312.2" x2="210.7" y2="312.2" stroke="#111" stroke-width="1" />
<text x="205.1" y="315.368" font-size="8.8" text-anchor="end" fill="#111" font-weight="bold" stroke="#111" stroke-width="0.25" >10</text>
<line x1="206.1" y1="341.3" x2="210.7" y2="341.3" stroke="#111" stroke-width="1" />
<text x="205.1" y="344.468" font-size="8.8" text-anchor="end" fill="#111" font-weight="bold" stroke="#111" stroke-width="0.25" >0</text>
<line x1="210.7" y1="341.3" x2="339.6" y2="341.3" stroke="#111" stroke-width="1" />
<line x1="223.0" y1="268.6" x2="223.0" y2="300.4" stroke="#1a1a1a" stroke-width="1.0" />
<line x1="219.808" y1="268.6" x2="226.192" y2="268.6" stroke="#1a1a1a" stroke-width="1.0" />
<rect x="217.3" y="300.4" width="11.399999999999977" height="40.900000000000034" fill="#cf2d28" stroke="#222" stroke-width="0.9" />
<line x1="240.3" y1="253.3" x2="240.3" y2="296" stroke="#1a1a1a" stroke-width="1.0" />
<line x1="237.108" y1="253.3" x2="243.49200000000002" y2="253.3" stroke="#1a1a1a" stroke-width="1.0" />
<rect x="234.6" y="296" width="11.400000000000006" height="45.30000000000001" fill="#74bce8" stroke="#222" stroke-width="0.9" />
<line x1="258.3" y1="293.2" x2="258.3" y2="315.4" stroke="#1a1a1a" stroke-width="1.0" />
<line x1="255.108" y1="293.2" x2="261.492" y2="293.2" stroke="#1a1a1a" stroke-width="1.0" />
<rect x="252.6" y="315.4" width="11.400000000000006" height="25.900000000000034" fill="#4790c6" stroke="#222" stroke-width="0.9" />
<line x1="275.3" y1="285" x2="275.3" y2="308" stroke="#1a1a1a" stroke-width="1.0" />
<line x1="272.108" y1="285" x2="278.492" y2="285" stroke="#1a1a1a" stroke-width="1.0" />
<rect x="269.6" y="308" width="11.399999999999977" height="33.30000000000001" fill="#b880c4" stroke="#222" stroke-width="0.9" />
<line x1="293.3" y1="304" x2="293.3" y2="320.7" stroke="#1a1a1a" stroke-width="1.0" />
<line x1="290.108" y1="304" x2="296.492" y2="304" stroke="#1a1a1a" stroke-width="1.0" />
<rect x="287.6" y="320.7" width="11.399999999999977" height="20.600000000000023" fill="#9055a8" stroke="#222" stroke-width="0.9" />
<line x1="310.95" y1="300.9" x2="310.95" y2="314.2" stroke="#1a1a1a" stroke-width="1.0" />
<line x1="307.89799999999997" y1="300.9" x2="314.002" y2="300.9" stroke="#1a1a1a" stroke-width="1.0" />
<rect x="305.5" y="314.2" width="10.899999999999977" height="27.100000000000023" fill="#eeea6c" stroke="#222" stroke-width="0.9" />
<line x1="328.35" y1="320" x2="328.35" y2="324.5" stroke="#1a1a1a" stroke-width="1.0" />
<line x1="325.18600000000004" y1="320" x2="331.514" y2="320" stroke="#1a1a1a" stroke-width="1.0" />
<rect x="322.7" y="324.5" width="11.300000000000011" height="16.80000000000001" fill="#e2c244" stroke="#222" stroke-width="0.9" />
<text x="185.2" y="283.9" font-size="10.5" text-anchor="middle" fill="#111" font-weight="bold" stroke="#111" stroke-width="0.25" transform="rotate(-90 185.2 283.9)">cfDNA/tube [ng]</text>
<text x="346.9" y="216" font-size="13" text-anchor="start" fill="#111" font-weight="bold" stroke="#111" stroke-width="0.25" >D</text>
<text x="391.5" y="215.2" font-size="12.4" text-anchor="start" fill="#111" font-weight="bold" stroke="#111" stroke-width="0.25" >cfDNA (160 bp)/</text>
<text x="391.5" y="225.4" font-size="12.4" text-anchor="start" fill="#111" font-weight="bold" stroke="#111" stroke-width="0.25" >Tube Plasma</text>
<line x1="378.6" y1="228.2" x2="378.6" y2="341.5" stroke="#111" stroke-width="1" />
<line x1="374.0" y1="228.2" x2="378.6" y2="228.2" stroke="#111" stroke-width="1" />
<text x="373.0" y="231.26" font-size="8.5" text-anchor="end" fill="#111" font-weight="bold" stroke="#111" stroke-width="0.25" >15</text>
<line x1="374.0" y1="265.8" x2="378.6" y2="265.8" stroke="#111" stroke-width="1" />
<text x="373.0" y="268.86" font-size="8.5" text-anchor="end" fill="#111" font-weight="bold" stroke="#111" stroke-width="0.25" >10</text>
<line x1="374.0" y1="303.6" x2="378.6" y2="303.6" stroke="#111" stroke-width="1" />
<text x="373.0" y="306.66" font-size="8.5" text-anchor="end" fill="#111" font-weight="bold" stroke="#111" stroke-width="0.25" >5</text>
<line x1="374.0" y1="341.5" x2="378.6" y2="341.5" stroke="#111" stroke-width="1" />
<text x="373.0" y="344.56" font-size="8.5" text-anchor="end" fill="#111" font-weight="bold" stroke="#111" stroke-width="0.25" >0</text>
<line x1="378.6" y1="341.5" x2="493.3" y2="341.5" stroke="#111" stroke-width="1" />
<line x1="378.6" y1="341.5" x2="378.6" y2="345" stroke="#111" stroke-width="1" />
<text x="378.6" y="354.5" font-size="9.5" text-anchor="middle" fill="#111" font-weight="bold" stroke="#111" stroke-width="0.25" >0</text>
<line x1="417.1" y1="341.5" x2="417.1" y2="345" stroke="#111" stroke-width="1" />
<text x="417.1" y="354.5" font-size="9.5" text-anchor="middle" fill="#111" font-weight="bold" stroke="#111" stroke-width="0.25" >2</text>
<line x1="455" y1="341.5" x2="455" y2="345" stroke="#111" stroke-width="1" />
<text x="455" y="354.5" font-size="9.5" text-anchor="middle" fill="#111" font-weight="bold" stroke="#111" stroke-width="0.25" >4</text>
<line x1="493.3" y1="341.5" x2="493.3" y2="345" stroke="#111" stroke-width="1" />
<text x="493.3" y="354.5" font-size="9.5" text-anchor="middle" fill="#111" font-weight="bold" stroke="#111" stroke-width="0.25" >6</text>
<line x1="378.6" y1="341.5" x2="487.5" y2="247.8" stroke="#7fc0ea" stroke-width="2.0" />
<line x1="378.6" y1="341.5" x2="479.6" y2="269.3" stroke="#b77bd0" stroke-width="2.0" />
<line x1="378.6" y1="341.5" x2="443.3" y2="283" stroke="#e3c13c" stroke-width="2.0" />
<line x1="378.6" y1="341.5" x2="466" y2="234" stroke="#d8302a" stroke-width="2.0" />
<line x1="492.1" y1="226.8" x2="501" y2="226.8" stroke="#d8302a" stroke-width="2.0" />
<text x="505.6" y="230.4" font-size="10.3" text-anchor="start" fill="#111" font-weight="bold" stroke="#111" stroke-width="0.25" >EDTA</text>
<line x1="492.1" y1="242.2" x2="501" y2="242.2" stroke="#7fc0ea" stroke-width="2.0" />
<text x="505.6" y="245.79999999999998" font-size="10.3" text-anchor="start" fill="#111" font-weight="bold" stroke="#111" stroke-width="0.25" >Norgen</text>
<line x1="492.1" y1="257.3" x2="501" y2="257.3" stroke="#b77bd0" stroke-width="2.0" />
<text x="505.6" y="260.90000000000003" font-size="10.3" text-anchor="start" fill="#111" font-weight="bold" stroke="#111" stroke-width="0.25" >PAX</text>
<line x1="492.1" y1="272.4" x2="501" y2="272.4" stroke="#e3c13c" stroke-width="2.0" />
<text x="505.6" y="276.0" font-size="10.3" text-anchor="start" fill="#111" font-weight="bold" stroke="#111" stroke-width="0.25" >Streck</text>
<text x="438.2" y="364.8" font-size="10.5" text-anchor="middle" fill="#111" font-weight="bold" stroke="#111" stroke-width="0.25" >Plasma volume [ml]</text>
<text x="354.4" y="284.4" font-size="10.45" text-anchor="middle" fill="#111" font-weight="bold" stroke="#111" stroke-width="0.25" transform="rotate(-90 354.4 284.4)">cfDNA/tube [ng]</text>
<text x="10.9" y="385.7" font-size="13" text-anchor="start" fill="#111" font-weight="bold" stroke="#111" stroke-width="0.25" >E</text>
<text x="40.4" y="386.4" font-size="12.4" text-anchor="start" fill="#111" font-weight="bold" stroke="#111" stroke-width="0.25" >Isolated DNA/Tube Plasma</text>
<line x1="38.3" y1="399.3" x2="38.3" y2="507.4" stroke="#111" stroke-width="1" />
<line x1="33.3" y1="399.3" x2="38.3" y2="399.3" stroke="#111" stroke-width="1" />
<text x="32.3" y="402.468" font-size="8.8" text-anchor="end" fill="#111" font-weight="bold" stroke="#111" stroke-width="0.25" >60</text>
<line x1="33.3" y1="435.3" x2="38.3" y2="435.3" stroke="#111" stroke-width="1" />
<text x="32.3" y="438.468" font-size="8.8" text-anchor="end" fill="#111" font-weight="bold" stroke="#111" stroke-width="0.25" >40</text>
<line x1="33.3" y1="471.6" x2="38.3" y2="471.6" stroke="#111" stroke-width="1" />
<text x="32.3" y="474.76800000000003" font-size="8.8" text-anchor="end" fill="#111" font-weight="bold" stroke="#111" stroke-width="0.25" >20</text>
<line x1="33.3" y1="507.4" x2="38.3" y2="507.4" stroke="#111" stroke-width="1" />
<text x="32.3" y="510.568" font-size="8.8" text-anchor="end" fill="#111" font-weight="bold" stroke="#111" stroke-width="0.25" >0</text>
<line x1="38.3" y1="507.4" x2="209.3" y2="507.4" stroke="#111" stroke-width="1" />
<line x1="47.5" y1="492.3" x2="47.5" y2="499.8" stroke="#1a1a1a" stroke-width="1.0" />
<line x1="44.98" y1="492.3" x2="50.02" y2="492.3" stroke="#1a1a1a" stroke-width="1.0" />
<rect x="43" y="499.8" width="9" height="7.599999999999966" fill="#cf2d28" stroke="#222" stroke-width="0.9" />
<line x1="58.7" y1="482.3" x2="58.7" y2="494.8" stroke="#1a1a1a" stroke-width="1.0" />
<line x1="56.18" y1="482.3" x2="61.220000000000006" y2="482.3" stroke="#1a1a1a" stroke-width="1.0" />
<rect x="54.2" y="494.8" width="9.0" height="12.599999999999966" fill="#74bce8" stroke="#222" stroke-width="0.9" />
<line x1="70.30000000000001" y1="489.3" x2="70.30000000000001" y2="494.8" stroke="#1a1a1a" stroke-width="1.0" />
<line x1="67.724" y1="489.3" x2="72.87600000000002" y2="489.3" stroke="#1a1a1a" stroke-width="1.0" />
<rect x="65.7" y="494.8" width="9.200000000000003" height="12.599999999999966" fill="#4790c6" stroke="#222" stroke-width="0.9" />
<line x1="81.75" y1="482.3" x2="81.75" y2="490.3" stroke="#1a1a1a" stroke-width="1.0" />
<line x1="79.31400000000001" y1="482.3" x2="84.18599999999999" y2="482.3" stroke="#1a1a1a" stroke-width="1.0" />
<rect x="77.4" y="490.3" width="8.699999999999989" height="17.099999999999966" fill="#b880c4" stroke="#222" stroke-width="0.9" />
<line x1="92.94999999999999" y1="484.3" x2="92.94999999999999" y2="491.3" stroke="#1a1a1a" stroke-width="1.0" />
<line x1="90.51399999999998" y1="484.3" x2="95.386" y2="484.3" stroke="#1a1a1a" stroke-width="1.0" />
<rect x="88.6" y="491.3" width="8.700000000000003" height="16.099999999999966" fill="#9055a8" stroke="#222" stroke-width="0.9" />
<line x1="104.44999999999999" y1="504.2" x2="104.44999999999999" y2="506" stroke="#1a1a1a" stroke-width="1.0" />
<line x1="102.12599999999999" y1="504.2" x2="106.77399999999999" y2="504.2" stroke="#1a1a1a" stroke-width="1.0" />
<rect x="100.3" y="506" width="8.299999999999997" height="1.3999999999999773" fill="#eeea6c" stroke="#222" stroke-width="0.9" />
<line x1="131.6" y1="412.5" x2="131.6" y2="449.9" stroke="#1a1a1a" stroke-width="1.0" />
<line x1="129.024" y1="412.5" x2="134.176" y2="412.5" stroke="#1a1a1a" stroke-width="1.0" />
<rect x="127" y="449.9" width="9.199999999999989" height="57.5" fill="#cf2d28" stroke="#222" stroke-width="0.9" />
<line x1="142.8" y1="440" x2="142.8" y2="466.6" stroke="#1a1a1a" stroke-width="1.0" />
<line x1="140.22400000000002" y1="440" x2="145.376" y2="440" stroke="#1a1a1a" stroke-width="1.0" />
<rect x="138.2" y="466.6" width="9.200000000000017" height="40.799999999999955" fill="#74bce8" stroke="#222" stroke-width="0.9" />
<line x1="154.0" y1="449" x2="154.0" y2="463" stroke="#1a1a1a" stroke-width="1.0" />
<line x1="151.424" y1="449" x2="156.576" y2="449" stroke="#1a1a1a" stroke-width="1.0" />
<rect x="149.4" y="463" width="9.199999999999989" height="44.39999999999998" fill="#4790c6" stroke="#222" stroke-width="0.9" />
<line x1="165.5" y1="426.2" x2="165.5" y2="454.9" stroke="#1a1a1a" stroke-width="1.0" />
<line x1="163.036" y1="426.2" x2="167.964" y2="426.2" stroke="#1a1a1a" stroke-width="1.0" />
<rect x="161.1" y="454.9" width="8.800000000000011" height="52.5" fill="#b880c4" stroke="#222" stroke-width="0.9" />
<line x1="177.0" y1="413.2" x2="177.0" y2="446.6" stroke="#1a1a1a" stroke-width="1.0" />
<line x1="174.424" y1="413.2" x2="179.576" y2="413.2" stroke="#1a1a1a" stroke-width="1.0" />
<rect x="172.4" y="446.6" width="9.199999999999989" height="60.799999999999955" fill="#9055a8" stroke="#222" stroke-width="0.9" />
<line x1="188.4" y1="443" x2="188.4" y2="466" stroke="#1a1a1a" stroke-width="1.0" />
<line x1="185.936" y1="443" x2="190.864" y2="443" stroke="#1a1a1a" stroke-width="1.0" />
<rect x="184" y="466" width="8.800000000000011" height="41.39999999999998" fill="#eeea6c" stroke="#222" stroke-width="0.9" />
<line x1="199.65" y1="464.3" x2="199.65" y2="476.6" stroke="#1a1a1a" stroke-width="1.0" />
<line x1="197.214" y1="464.3" x2="202.086" y2="464.3" stroke="#1a1a1a" stroke-width="1.0" />
<rect x="195.3" y="476.6" width="8.699999999999989" height="30.799999999999955" fill="#e2c244" stroke="#222" stroke-width="0.9" />
<text x="118.2" y="497.3" font-size="8.9" text-anchor="middle" fill="#1a1a1a" font-weight="normal" stroke="#1a1a1a" stroke-width="0.45" transform="rotate(-90 118.2 497.3)">n.d.</text>
<text x="76.5" y="521" font-size="9.8" text-anchor="middle" fill="#111" font-weight="bold" stroke="#111" stroke-width="0.25" >NucleoSpin</text>
<text x="166" y="521" font-size="9.8" text-anchor="middle" fill="#111" font-weight="bold" stroke="#111" stroke-width="0.25" >NucleoSnap</text>
<text x="19.0" y="453.9" font-size="10.4" text-anchor="middle" fill="#111" font-weight="bold" stroke="#111" stroke-width="0.25" transform="rotate(-90 19.0 453.9)">DNA/tube [ng]</text>
<text x="224.2" y="385.7" font-size="13" text-anchor="start" fill="#111" font-weight="bold" stroke="#111" stroke-width="0.25" >F</text>
<text x="260.2" y="386.4" font-size="12.4" text-anchor="start" fill="#111" font-weight="bold" stroke="#111" stroke-width="0.25" >Isolated RNA/Tube Plasma</text>
<line x1="259" y1="398.5" x2="259" y2="507" stroke="#111" stroke-width="1" />
<line x1="254.1" y1="398.5" x2="259" y2="398.5" stroke="#111" stroke-width="1" />
<text x="253.1" y="401.668" font-size="8.8" text-anchor="end" fill="#111" font-weight="bold" stroke="#111" stroke-width="0.25" >800</text>
<line x1="254.1" y1="425.6" x2="259" y2="425.6" stroke="#111" stroke-width="1" />
<text x="253.1" y="428.76800000000003" font-size="8.8" text-anchor="end" fill="#111" font-weight="bold" stroke="#111" stroke-width="0.25" >600</text>
<line x1="254.1" y1="452.8" x2="259" y2="452.8" stroke="#111" stroke-width="1" />
<text x="253.1" y="455.968" font-size="8.8" text-anchor="end" fill="#111" font-weight="bold" stroke="#111" stroke-width="0.25" >400</text>
<line x1="254.1" y1="480" x2="259" y2="480" stroke="#111" stroke-width="1" />
<text x="253.1" y="483.168" font-size="8.8" text-anchor="end" fill="#111" font-weight="bold" stroke="#111" stroke-width="0.25" >200</text>
<line x1="254.1" y1="507" x2="259" y2="507" stroke="#111" stroke-width="1" />
<text x="253.1" y="510.168" font-size="8.8" text-anchor="end" fill="#111" font-weight="bold" stroke="#111" stroke-width="0.25" >0</text>
<line x1="420.6" y1="399" x2="420.6" y2="507" stroke="#111" stroke-width="1" />
<line x1="420.6" y1="399" x2="425.20000000000005" y2="399" stroke="#111" stroke-width="1" />
<text x="427.40000000000003" y="402.24" font-size="9.0" text-anchor="start" fill="#111" font-weight="bold" stroke="#111" stroke-width="0.25" >60</text>
<line x1="420.6" y1="435" x2="425.20000000000005" y2="435" stroke="#111" stroke-width="1" />
<text x="427.40000000000003" y="438.24" font-size="9.0" text-anchor="start" fill="#111" font-weight="bold" stroke="#111" stroke-width="0.25" >40</text>
<line x1="420.6" y1="470.9" x2="425.20000000000005" y2="470.9" stroke="#111" stroke-width="1" />
<text x="427.40000000000003" y="474.14" font-size="9.0" text-anchor="start" fill="#111" font-weight="bold" stroke="#111" stroke-width="0.25" >20</text>
<line x1="420.6" y1="507" x2="425.20000000000005" y2="507" stroke="#111" stroke-width="1" />
<text x="427.40000000000003" y="510.24" font-size="9.0" text-anchor="start" fill="#111" font-weight="bold" stroke="#111" stroke-width="0.25" >0</text>
<line x1="259" y1="507" x2="420.6" y2="507" stroke="#111" stroke-width="1" />
<line x1="268.85" y1="482.1" x2="268.85" y2="495.9" stroke="#1a1a1a" stroke-width="1.0" />
<line x1="266.47" y1="482.1" x2="271.23" y2="482.1" stroke="#1a1a1a" stroke-width="1.0" />
<rect x="264.6" y="495.9" width="8.5" height="11.100000000000023" fill="#cf2d28" stroke="#222" stroke-width="0.9" />
<line x1="279.85" y1="405.9" x2="279.85" y2="444.9" stroke="#1a1a1a" stroke-width="1.0" />
<line x1="277.526" y1="405.9" x2="282.17400000000004" y2="405.9" stroke="#1a1a1a" stroke-width="1.0" />
<rect x="275.7" y="444.9" width="8.300000000000011" height="62.10000000000002" fill="#74bce8" stroke="#222" stroke-width="0.9" />
<line x1="290.3" y1="471.3" x2="290.3" y2="478.5" stroke="#1a1a1a" stroke-width="1.0" />
<line x1="287.892" y1="471.3" x2="292.708" y2="471.3" stroke="#1a1a1a" stroke-width="1.0" />
<rect x="286" y="478.5" width="8.600000000000023" height="28.5" fill="#4790c6" stroke="#222" stroke-width="0.9" />
<line x1="300.65" y1="447.5" x2="300.65" y2="454" stroke="#1a1a1a" stroke-width="1.0" />
<line x1="298.27" y1="447.5" x2="303.03" y2="447.5" stroke="#1a1a1a" stroke-width="1.0" />
<rect x="296.4" y="454" width="8.5" height="53" fill="#b880c4" stroke="#222" stroke-width="0.9" />
<line x1="311.0" y1="463.5" x2="311.0" y2="482.1" stroke="#1a1a1a" stroke-width="1.0" />
<line x1="308.592" y1="463.5" x2="313.408" y2="463.5" stroke="#1a1a1a" stroke-width="1.0" />
<rect x="306.7" y="482.1" width="8.600000000000023" height="24.899999999999977" fill="#9055a8" stroke="#222" stroke-width="0.9" />
<line x1="321.3" y1="497.1" x2="321.3" y2="500.5" stroke="#1a1a1a" stroke-width="1.0" />
<line x1="318.892" y1="497.1" x2="323.708" y2="497.1" stroke="#1a1a1a" stroke-width="1.0" />
<rect x="317" y="500.5" width="8.600000000000023" height="6.5" fill="#eeea6c" stroke="#222" stroke-width="0.9" />
<line x1="331.7" y1="504.1" x2="331.7" y2="505.7" stroke="#1a1a1a" stroke-width="1.0" />
<line x1="329.74" y1="504.1" x2="333.65999999999997" y2="504.1" stroke="#1a1a1a" stroke-width="1.0" />
<rect x="328.2" y="505.7" width="7.0" height="1.3000000000000114" fill="#e2c244" stroke="#222" stroke-width="0.9" />
<line x1="350.04999999999995" y1="464.4" x2="350.04999999999995" y2="489.6" stroke="#1a1a1a" stroke-width="1.0" />
<line x1="347.44599999999997" y1="464.4" x2="352.65399999999994" y2="464.4" stroke="#1a1a1a" stroke-width="1.0" />
<rect x="345.4" y="489.6" width="9.300000000000011" height="17.399999999999977" fill="#cf2d28" stroke="#222" stroke-width="0.9" />
<line x1="360.5" y1="472.7" x2="360.5" y2="496" stroke="#1a1a1a" stroke-width="1.0" />
<line x1="358.092" y1="472.7" x2="362.908" y2="472.7" stroke="#1a1a1a" stroke-width="1.0" />
<rect x="356.2" y="496" width="8.600000000000023" height="11" fill="#74bce8" stroke="#222" stroke-width="0.9" />
<line x1="370.65" y1="407.2" x2="370.65" y2="465.7" stroke="#1a1a1a" stroke-width="1.0" />
<line x1="368.102" y1="407.2" x2="373.198" y2="407.2" stroke="#1a1a1a" stroke-width="1.0" />
<rect x="366.1" y="465.7" width="9.099999999999966" height="41.30000000000001" fill="#4790c6" stroke="#222" stroke-width="0.9" />
<line x1="381.5" y1="471.4" x2="381.5" y2="495.5" stroke="#1a1a1a" stroke-width="1.0" />
<line x1="379.092" y1="471.4" x2="383.908" y2="471.4" stroke="#1a1a1a" stroke-width="1.0" />
<rect x="377.2" y="495.5" width="8.600000000000023" height="11.5" fill="#b880c4" stroke="#222" stroke-width="0.9" />
<line x1="402.1" y1="487" x2="402.1" y2="500.7" stroke="#1a1a1a" stroke-width="1.0" />
<line x1="399.80400000000003" y1="487" x2="404.396" y2="487" stroke="#1a1a1a" stroke-width="1.0" />
<rect x="398" y="500.7" width="8.199999999999989" height="6.300000000000011" fill="#eeea6c" stroke="#222" stroke-width="0.9" />
<line x1="413.1" y1="492.9" x2="413.1" y2="502" stroke="#1a1a1a" stroke-width="1.0" />
<line x1="410.692" y1="492.9" x2="415.50800000000004" y2="492.9" stroke="#1a1a1a" stroke-width="1.0" />
<rect x="408.8" y="502" width="8.599999999999966" height="5" fill="#e2c244" stroke="#222" stroke-width="0.9" />
<text x="394.5" y="497.3" font-size="8.1" text-anchor="middle" fill="#1a1a1a" font-weight="normal" stroke="#1a1a1a" stroke-width="0.35" transform="rotate(-90 394.5 497.3)">n.d.</text>
<text x="299.5" y="521" font-size="9.8" text-anchor="middle" fill="#111" font-weight="bold" stroke="#111" stroke-width="0.25" >NucleoSpin</text>
<text x="382.2" y="521" font-size="9.8" text-anchor="middle" fill="#111" font-weight="bold" stroke="#111" stroke-width="0.25" >NucleoSnap</text>
<text x="232.8" y="453.9" font-size="10.4" text-anchor="middle" fill="#111" font-weight="bold" stroke="#111" stroke-width="0.25" transform="rotate(-90 232.8 453.9)">RNA/tube [ng]</text>
<rect x="455.5" y="393.70000000000005" width="13.4" height="6.8" fill="#cf2d28" stroke="#1a1a1a" stroke-width="1.0" />
<text x="474.1" y="400.8" font-size="10.4" text-anchor="start" fill="#111" font-weight="bold" stroke="#111" stroke-width="0.25" >EDTA</text>
<rect x="455.5" y="410.55000000000007" width="13.4" height="6.8" fill="#74bce8" stroke="#1a1a1a" stroke-width="1.0" />
<text x="474.1" y="417.65000000000003" font-size="10.4" text-anchor="start" fill="#111" font-weight="bold" stroke="#111" stroke-width="0.25" >Norgen 3d</text>
<rect x="455.5" y="427.40000000000003" width="13.4" height="6.8" fill="#4790c6" stroke="#1a1a1a" stroke-width="1.0" />
<text x="474.1" y="434.5" font-size="10.4" text-anchor="start" fill="#111" font-weight="bold" stroke="#111" stroke-width="0.25" >Norgen 7d</text>
<rect x="455.5" y="444.25000000000006" width="13.4" height="6.8" fill="#b880c4" stroke="#1a1a1a" stroke-width="1.0" />
<text x="474.1" y="451.35" font-size="10.4" text-anchor="start" fill="#111" font-weight="bold" stroke="#111" stroke-width="0.25" >PAX 3d</text>
<rect x="455.5" y="461.1" width="13.4" height="6.8" fill="#9055a8" stroke="#1a1a1a" stroke-width="1.0" />
<text x="474.1" y="468.2" font-size="10.4" text-anchor="start" fill="#111" font-weight="bold" stroke="#111" stroke-width="0.25" >PAX 7d</text>
<rect x="455.5" y="477.95000000000005" width="13.4" height="6.8" fill="#eeea6c" stroke="#1a1a1a" stroke-width="1.0" />
<text x="474.1" y="485.05" font-size="10.4" text-anchor="start" fill="#111" font-weight="bold" stroke="#111" stroke-width="0.25" >Streck 3d</text>
<rect x="455.5" y="494.80000000000007" width="13.4" height="6.8" fill="#e2c244" stroke="#1a1a1a" stroke-width="1.0" />
<text x="474.1" y="501.90000000000003" font-size="10.4" text-anchor="start" fill="#111" font-weight="bold" stroke="#111" stroke-width="0.25" >Streck 7d</text>
</svg></body></html>
